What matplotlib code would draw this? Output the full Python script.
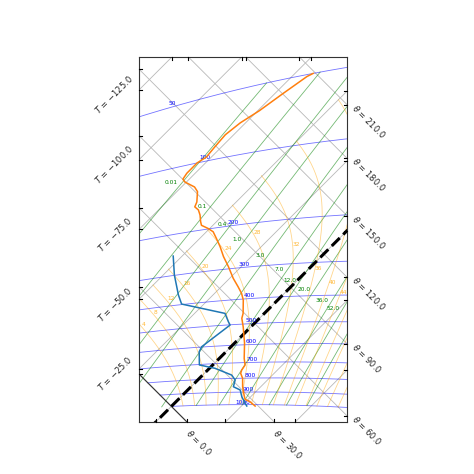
import numpy as np
import matplotlib
matplotlib.use("Agg")
import matplotlib.pyplot as plt

# tephigram constants -------------------------------------
KELVIN = 273.15
KAPPA = 0.2857
ENTROPY_SCALE = 300.0      # scale of ln(theta) against temperature

# view window in rotated (x, y) units
X_LIM = (-23.2, 125.9)
Y_LIM = (-11.2, 250.4)

# ----------------------------------------------------
# data (hPa, degC)
# ----------------------------------------------------
temp_pressure = [1012, 976, 957, 923, 860, 801, 767, 746, 715, 675, 592, 512,
                 475, 455, 404, 380, 357, 329, 294, 266, 241, 222, 207, 199,
                 191, 184, 172, 163, 157, 150, 135, 128, 119, 115, 109, 100,
                 96, 88, 79, 72, 66, 58, 51, 50]
temp_values = [29.9, 26.5, 23.9, 22.0, 18.5, 15.5, 13.0, 12.2, 11.6, 8.9, 3.6, -2.8,
               -6.3, -7.6, -12.3, -15.3, -18.9, -23.7, -29.6, -35.0, -39.8, -44.0, -47.6, -50.6,
               -54.1, -55.7, -58.3, -60.7, -63.1, -64.1, -67.6, -70.3, -75.6, -77.3, -78.0, -78.0,
               -76.8, -77.4, -78.0, -76.9, -74.4, -72.1, -69.6, -68.5]

dew_pressure = [1012, 989, 936, 884, 859, 811, 777, 729, 703, 625, 598, 501,
                486, 450, 398, 364, 299, 248]
dew_values = [26.9, 25.3, 21.8, 18.8, 15.2, 13.4, 10.4, 2.0, -4.8, -9.6, -10.5, -8.1,
              -9.9, -14.1, -33.0, -37.4, -46.0, -53.2]

# isopleth values
isobars = [50, 100, 200, 300, 400, 500, 600, 700, 800, 900, 1000]
wet_adiabats = [4, 8, 12, 16, 20, 24, 28, 32, 36, 40, 44, 48, 52, 56, 60]
mixing_ratios = [0.01, 0.1, 0.4, 1.0, 3.0, 7.0, 12.0, 20.0, 36.0, 52.0, 80.0]
isotherm_ticks = [-150, -125, -100, -75, -50, -25, 0, 25, 50, 75]
theta_ticks = [-30, 0, 30, 60, 90, 120, 150, 180, 210, 240, 270]


# ----------------------------------------------------
# helpers
# ----------------------------------------------------
def to_xy(t, theta):
    t = np.asarray(t, float)
    s = ENTROPY_SCALE * np.log((np.asarray(theta, float) + KELVIN) / KELVIN)
    return t + s, s - t


def pot_temp(p, t):
    return (np.asarray(t, float) + KELVIN) * (1000.0 / np.asarray(p, float)) ** KAPPA - KELVIN


def moist_lapse(p, t):
    tk = t + KELVIN
    es = 6.112 * np.exp(17.67 * t / (t + 243.5))
    rs = 0.622 * es / (p - es)
    num = 287.04 * tk + 2.501e6 * rs
    den = p * (1004.0 + 2.501e6 ** 2 * rs * 0.622 / (287.04 * tk ** 2))
    return num / den


def wet_adiabat_curve(tw, t_min=-50.0):
    p, t = 1000.0, float(tw)
    ps, ts = [p], [t]
    dp = -2.0
    while t > t_min and p > 20:
        k1 = moist_lapse(p, t)
        k2 = moist_lapse(p + dp, t + dp * k1)
        t += 0.5 * dp * (k1 + k2)
        p += dp
        ps.append(p)
        ts.append(t)
    return np.array(ps), np.array(ts)


def mixing_ratio_curve(w):
    p = np.linspace(1000, 50, 200)
    e = w * 1e-3 * p / (0.622 + w * 1e-3)
    lr = np.log(e / 6.112)
    t = 243.5 * lr / (17.67 - lr)
    return p, t


# centre of the view in (T, theta) -> where isopleth labels go
xc, yc = np.mean(X_LIM), np.mean(Y_LIM)
T0 = (xc - yc) / 2
TH0 = KELVIN * np.exp((xc + yc) / 2 / ENTROPY_SCALE) - KELVIN


def nearest(ts, ths):
    i = np.argmin((ts - T0) ** 2 + (ths - TH0) ** 2)
    return ts[i], ths[i]


# ----------------------------------------------------
# figure
# ----------------------------------------------------
fig = plt.figure(figsize=(4.74, 4.74), dpi=100)
ax = fig.add_axes([139 / 474, 52 / 474, 208 / 474, 365 / 474])
ax.set_xlim(*X_LIM)
ax.set_ylim(*Y_LIM)
ax.set_xticks([])
ax.set_yticks([])
for sp in ax.spines.values():
    sp.set_linewidth(0.8)
    sp.set_color("#333333")

ISO_FS = 4.2

# grid: isotherms and dry adiabats
th_span = np.array([-120.0, 420.0])
t_span = np.array([-250.0, 200.0])
for t in isotherm_ticks:
    gx, gy = to_xy([t, t], th_span)
    ax.plot(gx, gy, color="0.72", lw=0.6, zorder=1)
for th in theta_ticks:
    gx, gy = to_xy(t_span, [th, th])
    ax.plot(gx, gy, color="0.72", lw=0.6, zorder=1)

# isobars
for p in isobars:
    th = np.linspace(0, 250, 300)
    t = (th + KELVIN) / (1000.0 / p) ** KAPPA - KELVIN
    lx, ly = to_xy(t, th)
    ax.plot(lx, ly, color="blue", lw=0.6, alpha=0.55, zorder=2)
    tt, tth = nearest(t, th)
    px, py = to_xy(tt, tth)
    ax.text(px, py, str(p), color="blue", fontsize=ISO_FS, ha="right", va="bottom",
            clip_on=True, zorder=5)

# mixing ratio lines
for w in mixing_ratios:
    p, t = mixing_ratio_curve(w)
    th = pot_temp(p, t)
    lx, ly = to_xy(t, th)
    ax.plot(lx, ly, color="green", lw=0.6, alpha=0.55, zorder=2)
    tt, tth = nearest(t, th)
    ax.annotate(str(w), to_xy(tt, tth), xytext=(-1.5, 0), textcoords="offset points",
                color="green", fontsize=ISO_FS, ha="right", va="bottom",
                annotation_clip=True, zorder=5)

# wet adiabats
for tw in wet_adiabats:
    p, t = wet_adiabat_curve(tw)
    th = pot_temp(p, t)
    lx, ly = to_xy(t, th)
    ax.plot(lx, ly, color="orange", lw=0.6, alpha=0.45, zorder=2)
    tt, tth = nearest(t, th)
    px, py = to_xy(tt, tth)
    ax.text(px, py, str(tw), color="orange", fontsize=ISO_FS, ha="left", va="bottom",
            alpha=0.8, clip_on=True, zorder=5)

# 0 degC isotherm (dashed) and theta = 0 line
zx, zy = to_xy([0, 0], th_span)
ax.plot(zx, zy, color="black", lw=2.2, ls="--", zorder=4)
zx, zy = to_xy(t_span, [0, 0])
ax.plot(zx, zy, color="#333333", lw=0.8, zorder=3)

# profiles
tx, ty = to_xy(temp_values, pot_temp(temp_pressure, temp_values))
ax.plot(tx, ty, color="C1", lw=1.1, zorder=6)
dx, dy = to_xy(dew_values, pot_temp(dew_pressure, dew_values))
ax.plot(dx, dy, color="C0", lw=1.1, zorder=6)

# ----------------------------------------------------
# ticks and labels on the frame
# ----------------------------------------------------
TL = 2.2
tick_kw = dict(color="black", lw=0.8, zorder=7, clip_on=False)
lab_kw = dict(fontsize=6, textcoords="offset points", annotation_clip=False,
              color="#222222")


def fmt(v):
    return "{:.1f}".format(v).replace("-", "\u2212")


def s_of(th):
    return ENTROPY_SCALE * np.log((th + KELVIN) / KELVIN)


x0, x1 = X_LIM
y0, y1 = Y_LIM
for t in isotherm_ticks:
    # left
    y = x0 - 2 * t
    if y0 < y < y1:
        ax.plot([x0, x0 + TL], [y, y], **tick_kw)
        ax.annotate("$T$ = " + fmt(t), (x0, y), xytext=(-3, -3.5),
                    rotation=45, ha="right", va="center", **lab_kw)
    # right
    y = x1 - 2 * t
    if y0 < y < y1:
        ax.plot([x1, x1 - TL], [y, y], **tick_kw)
    # bottom / top
    for yy, d in ((y0, TL), (y1, -TL)):
        x = 2 * t + yy
        if x0 < x < x1:
            ax.plot([x, x], [yy, yy + d], **tick_kw)

for th in theta_ticks:
    s = s_of(th)
    y = 2 * s - x0
    if y0 < y < y1:
        ax.plot([x0, x0 + TL], [y, y], **tick_kw)
    y = 2 * s - x1
    if y0 < y < y1:
        ax.plot([x1, x1 - TL], [y, y], **tick_kw)
        ax.annotate("$\\theta$ = " + fmt(th), (x1, y), xytext=(2, 2),
                    rotation=-45, ha="left", va="top", **lab_kw)
    x = 2 * s - y0
    if x0 < x < x1:
        ax.plot([x, x], [y0, y0 + TL], **tick_kw)
        ax.annotate("$\\theta$ = " + fmt(th), (x, y0), xytext=(-2.5, -3.5),
                    rotation=-45, ha="left", va="top", **lab_kw)
    x = 2 * s - y1
    if x0 < x < x1:
        ax.plot([x, x], [y1, y1 - TL], **tick_kw)

fig.savefig("out.png", dpi=100)
